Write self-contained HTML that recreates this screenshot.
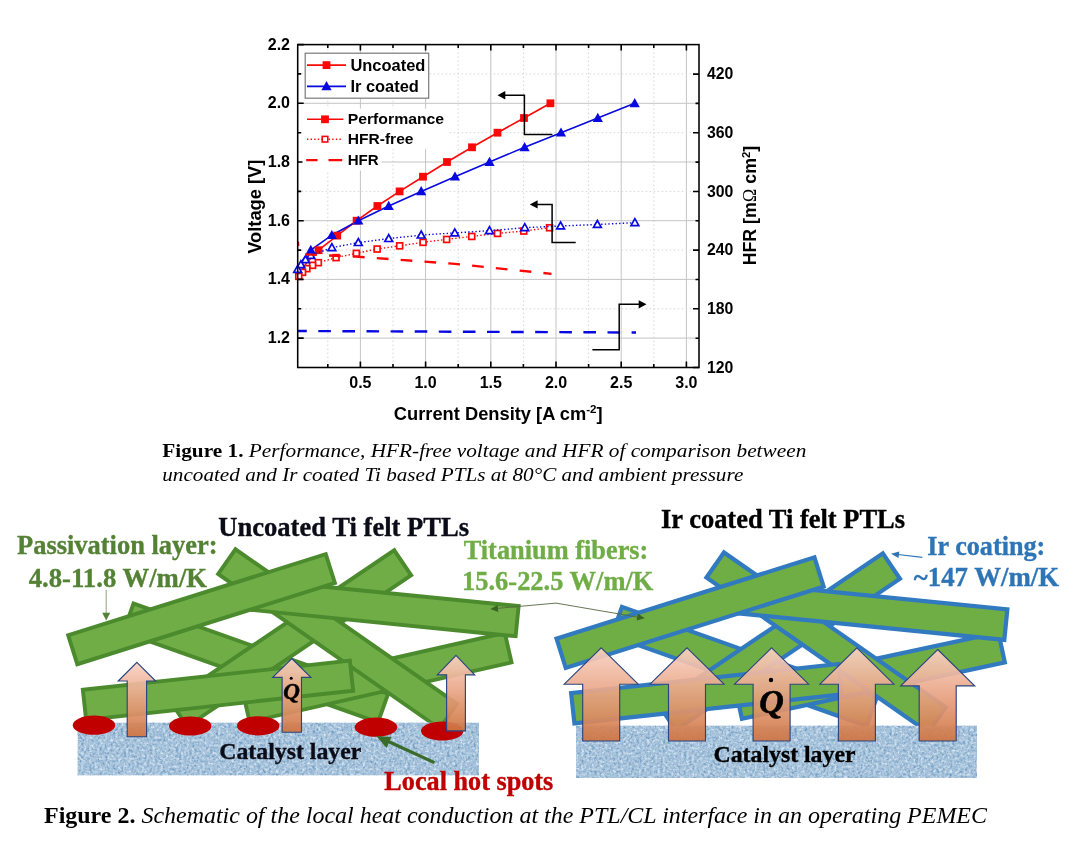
<!DOCTYPE html>
<html><head><meta charset="utf-8"><title>Figure</title>
<style>html,body{margin:0;padding:0;background:#fff}svg{display:block}</style></head>
<body><svg width="1082" height="845" viewBox="0 0 1082 845">
<rect width="1082" height="845" fill="#fff"/>
<g id="chart"><line x1="360.4" y1="44.6" x2="360.4" y2="367.5" stroke="#c4c4c4" stroke-width="1"/>
<line x1="425.6" y1="44.6" x2="425.6" y2="367.5" stroke="#c4c4c4" stroke-width="1"/>
<line x1="490.8" y1="44.6" x2="490.8" y2="367.5" stroke="#c4c4c4" stroke-width="1"/>
<line x1="556.0" y1="44.6" x2="556.0" y2="367.5" stroke="#c4c4c4" stroke-width="1"/>
<line x1="621.2" y1="44.6" x2="621.2" y2="367.5" stroke="#c4c4c4" stroke-width="1"/>
<line x1="686.4" y1="44.6" x2="686.4" y2="367.5" stroke="#c4c4c4" stroke-width="1"/>
<line x1="327.8" y1="44.6" x2="327.8" y2="367.5" stroke="#d6d6d6" stroke-width="1" stroke-dasharray="1.5,2.5"/>
<line x1="393.0" y1="44.6" x2="393.0" y2="367.5" stroke="#d6d6d6" stroke-width="1" stroke-dasharray="1.5,2.5"/>
<line x1="458.2" y1="44.6" x2="458.2" y2="367.5" stroke="#d6d6d6" stroke-width="1" stroke-dasharray="1.5,2.5"/>
<line x1="523.4" y1="44.6" x2="523.4" y2="367.5" stroke="#d6d6d6" stroke-width="1" stroke-dasharray="1.5,2.5"/>
<line x1="588.6" y1="44.6" x2="588.6" y2="367.5" stroke="#d6d6d6" stroke-width="1" stroke-dasharray="1.5,2.5"/>
<line x1="653.8" y1="44.6" x2="653.8" y2="367.5" stroke="#d6d6d6" stroke-width="1" stroke-dasharray="1.5,2.5"/>
<line x1="297.7" y1="103.3" x2="699.0" y2="103.3" stroke="#c4c4c4" stroke-width="1"/>
<line x1="297.7" y1="162.0" x2="699.0" y2="162.0" stroke="#c4c4c4" stroke-width="1"/>
<line x1="297.7" y1="220.7" x2="699.0" y2="220.7" stroke="#c4c4c4" stroke-width="1"/>
<line x1="297.7" y1="279.4" x2="699.0" y2="279.4" stroke="#c4c4c4" stroke-width="1"/>
<line x1="297.7" y1="338.1" x2="699.0" y2="338.1" stroke="#c4c4c4" stroke-width="1"/>
<line x1="297.7" y1="73.9" x2="699.0" y2="73.9" stroke="#d6d6d6" stroke-width="1" stroke-dasharray="1.5,2.5"/>
<line x1="297.7" y1="132.7" x2="699.0" y2="132.7" stroke="#d6d6d6" stroke-width="1" stroke-dasharray="1.5,2.5"/>
<line x1="297.7" y1="191.4" x2="699.0" y2="191.4" stroke="#d6d6d6" stroke-width="1" stroke-dasharray="1.5,2.5"/>
<line x1="297.7" y1="250.1" x2="699.0" y2="250.1" stroke="#d6d6d6" stroke-width="1" stroke-dasharray="1.5,2.5"/>
<line x1="297.7" y1="308.8" x2="699.0" y2="308.8" stroke="#d6d6d6" stroke-width="1" stroke-dasharray="1.5,2.5"/>
<polyline points="549.6,227.7 523.8,231.0 497.5,233.4 471.7,236.4 446.6,239.4 423.0,242.3 399.6,245.8 377.2,249.0 356.4,253.3 336.0,257.6 318.4,262.6 312.5,265.4 306.8,268.6 302.5,272.4 298.7,276.3" fill="none" stroke="#fa0808" stroke-width="1.4" stroke-dasharray="1.4,2.2"/>
<polyline points="550.4,103.3 524.0,118.0 497.5,132.7 472.0,147.3 447.0,162.0 423.0,176.7 399.6,191.4 377.4,206.0 356.6,220.7 337.2,235.6 318.6,250.2 312.6,256.1 306.9,262.4 302.7,268.6 298.7,274.6" fill="none" stroke="#fa0808" stroke-width="1.6"/>
<polyline points="634.7,103.3 597.8,118.0 561.0,132.7 524.6,147.3 489.5,162.0 455.0,176.7 421.2,191.4 388.7,206.0 358.3,220.7 331.8,235.2 310.8,250.0 305.5,256.2 300.9,262.8 297.7,268.5" fill="none" stroke="#0808e0" stroke-width="1.6"/>
<rect x="546.5" y="99.4" width="7.8" height="7.8" fill="#fa0808"/>
<rect x="520.1" y="114.1" width="7.8" height="7.8" fill="#fa0808"/>
<rect x="493.6" y="128.8" width="7.8" height="7.8" fill="#fa0808"/>
<rect x="468.1" y="143.4" width="7.8" height="7.8" fill="#fa0808"/>
<rect x="443.1" y="158.1" width="7.8" height="7.8" fill="#fa0808"/>
<rect x="419.1" y="172.8" width="7.8" height="7.8" fill="#fa0808"/>
<rect x="395.7" y="187.5" width="7.8" height="7.8" fill="#fa0808"/>
<rect x="373.5" y="202.1" width="7.8" height="7.8" fill="#fa0808"/>
<rect x="352.7" y="216.8" width="7.8" height="7.8" fill="#fa0808"/>
<rect x="333.3" y="231.7" width="7.8" height="7.8" fill="#fa0808"/>
<rect x="314.7" y="246.3" width="7.8" height="7.8" fill="#fa0808"/>
<polygon points="634.7,98.0 629.6,107.2 639.8,107.2" fill="#0808e0"/>
<polygon points="597.8,112.7 592.7,121.9 602.9,121.9" fill="#0808e0"/>
<polygon points="561.0,127.4 555.9,136.6 566.1,136.6" fill="#0808e0"/>
<polygon points="524.6,142.0 519.5,151.2 529.7,151.2" fill="#0808e0"/>
<polygon points="489.5,156.7 484.4,165.9 494.6,165.9" fill="#0808e0"/>
<polygon points="455.0,171.4 449.9,180.6 460.1,180.6" fill="#0808e0"/>
<polygon points="421.2,186.1 416.1,195.3 426.3,195.3" fill="#0808e0"/>
<polygon points="388.7,200.7 383.6,209.9 393.8,209.9" fill="#0808e0"/>
<polygon points="358.3,215.4 353.2,224.6 363.4,224.6" fill="#0808e0"/>
<polygon points="331.8,229.9 326.7,239.1 336.9,239.1" fill="#0808e0"/>
<polygon points="310.8,244.7 305.7,253.9 315.9,253.9" fill="#0808e0"/>
<rect x="546.6" y="224.8" width="5.9" height="5.9" fill="#fff" stroke="#fa0808" stroke-width="1.7"/>
<rect x="520.8" y="228.1" width="5.9" height="5.9" fill="#fff" stroke="#fa0808" stroke-width="1.7"/>
<rect x="494.6" y="230.5" width="5.9" height="5.9" fill="#fff" stroke="#fa0808" stroke-width="1.7"/>
<rect x="468.8" y="233.5" width="5.9" height="5.9" fill="#fff" stroke="#fa0808" stroke-width="1.7"/>
<rect x="443.7" y="236.5" width="5.9" height="5.9" fill="#fff" stroke="#fa0808" stroke-width="1.7"/>
<rect x="420.1" y="239.4" width="5.9" height="5.9" fill="#fff" stroke="#fa0808" stroke-width="1.7"/>
<rect x="396.7" y="242.9" width="5.9" height="5.9" fill="#fff" stroke="#fa0808" stroke-width="1.7"/>
<rect x="374.2" y="246.1" width="5.9" height="5.9" fill="#fff" stroke="#fa0808" stroke-width="1.7"/>
<rect x="353.4" y="250.4" width="5.9" height="5.9" fill="#fff" stroke="#fa0808" stroke-width="1.7"/>
<rect x="333.1" y="254.7" width="5.9" height="5.9" fill="#fff" stroke="#fa0808" stroke-width="1.7"/>
<rect x="315.4" y="259.7" width="5.9" height="5.9" fill="#fff" stroke="#fa0808" stroke-width="1.7"/>
<rect x="309.6" y="262.4" width="5.9" height="5.9" fill="#fff" stroke="#fa0808" stroke-width="1.7"/>
<rect x="303.9" y="265.7" width="5.9" height="5.9" fill="#fff" stroke="#fa0808" stroke-width="1.7"/>
<rect x="299.6" y="269.4" width="5.9" height="5.9" fill="#fff" stroke="#fa0808" stroke-width="1.7"/>
<rect x="295.8" y="273.4" width="5.9" height="5.9" fill="#fff" stroke="#fa0808" stroke-width="1.7"/>
<polyline points="634.9,222.7 597.4,224.5 560.6,226.0 524.8,227.7 489.5,230.7 454.8,232.9 421.2,235.1 388.7,238.6 358.3,242.6 331.9,247.7 310.8,255.5 305.5,259.8 300.9,264.8 297.7,269.4" fill="none" stroke="#0808e0" stroke-width="1.4" stroke-dasharray="1.4,2.2"/>
<polygon points="634.9,218.7 631.0,225.6 638.8,225.6" fill="#fff" stroke="#0808e0" stroke-width="1.7" stroke-linejoin="miter"/>
<polygon points="597.4,220.5 593.5,227.4 601.3,227.4" fill="#fff" stroke="#0808e0" stroke-width="1.7" stroke-linejoin="miter"/>
<polygon points="560.6,222.0 556.7,228.9 564.5,228.9" fill="#fff" stroke="#0808e0" stroke-width="1.7" stroke-linejoin="miter"/>
<polygon points="524.8,223.7 520.9,230.6 528.7,230.6" fill="#fff" stroke="#0808e0" stroke-width="1.7" stroke-linejoin="miter"/>
<polygon points="489.5,226.7 485.6,233.6 493.4,233.6" fill="#fff" stroke="#0808e0" stroke-width="1.7" stroke-linejoin="miter"/>
<polygon points="454.8,228.9 450.9,235.8 458.7,235.8" fill="#fff" stroke="#0808e0" stroke-width="1.7" stroke-linejoin="miter"/>
<polygon points="421.2,231.1 417.3,238.0 425.1,238.0" fill="#fff" stroke="#0808e0" stroke-width="1.7" stroke-linejoin="miter"/>
<polygon points="388.7,234.6 384.8,241.5 392.6,241.5" fill="#fff" stroke="#0808e0" stroke-width="1.7" stroke-linejoin="miter"/>
<polygon points="358.3,238.6 354.4,245.5 362.2,245.5" fill="#fff" stroke="#0808e0" stroke-width="1.7" stroke-linejoin="miter"/>
<polygon points="331.9,243.7 328.0,250.6 335.8,250.6" fill="#fff" stroke="#0808e0" stroke-width="1.7" stroke-linejoin="miter"/>
<polygon points="310.8,251.5 306.9,258.4 314.7,258.4" fill="#fff" stroke="#0808e0" stroke-width="1.7" stroke-linejoin="miter"/>
<polygon points="305.5,255.8 301.6,262.7 309.4,262.7" fill="#fff" stroke="#0808e0" stroke-width="1.7" stroke-linejoin="miter"/>
<polygon points="300.9,260.8 297.0,267.7 304.8,267.7" fill="#fff" stroke="#0808e0" stroke-width="1.7" stroke-linejoin="miter"/>
<polygon points="297.7,265.4 293.8,272.3 301.6,272.3" fill="#fff" stroke="#0808e0" stroke-width="1.7" stroke-linejoin="miter"/>
<polyline points="297.7,331.0 636.0,332.5" fill="none" stroke="#0808e0" stroke-width="2.4" stroke-dasharray="12.6,11.5" stroke-dashoffset="3.5"/>
<polyline points="305.2,254.4 356.0,256.6 452.0,263.6 551.5,273.9" fill="none" stroke="#fa0808" stroke-width="2.4" stroke-dasharray="11.7,12.2"/><path d="M298.3,241.5L298.6,246" stroke="#fa0808" stroke-width="1.6"/>
<rect x="297.7" y="44.6" width="401.3" height="322.9" fill="none" stroke="#000" stroke-width="1.55"/>
<path d="M297.7,44.6h6M297.7,103.3h6M297.7,162.0h6M297.7,220.7h6M297.7,279.4h6M297.7,338.1h6M297.7,73.9h3.5M297.7,132.7h3.5M297.7,191.4h3.5M297.7,250.1h3.5M297.7,308.8h3.5M699.0,74.1h-6M699.0,132.8h-6M699.0,191.5h-6M699.0,250.1h-6M699.0,308.8h-6M699.0,367.5h-6M699.0,103.4h-3.5M699.0,162.1h-3.5M699.0,220.8h-3.5M699.0,279.5h-3.5M699.0,338.2h-3.5M360.4,367.5v-6M360.4,44.6v6M425.6,367.5v-6M425.6,44.6v6M490.8,367.5v-6M490.8,44.6v6M556.0,367.5v-6M556.0,44.6v6M621.2,367.5v-6M621.2,44.6v6M686.4,367.5v-6M686.4,44.6v6M327.8,367.5v-3.5M327.8,44.6v3.5M393.0,367.5v-3.5M393.0,44.6v3.5M458.2,367.5v-3.5M458.2,44.6v3.5M523.4,367.5v-3.5M523.4,44.6v3.5M588.6,367.5v-3.5M588.6,44.6v3.5M653.8,367.5v-3.5M653.8,44.6v3.5" stroke="#000" stroke-width="1.6" fill="none"/>
<polyline points="505.0,95.3 524.4,95.3 524.4,134.4 552.4,134.4" fill="none" stroke="#000" stroke-width="1.5"/>
<polygon points="497.5,95.3 505.3,91.1 505.3,99.5" fill="#000"/>
<polyline points="537.0,204.4 552.1,204.4 552.1,242.6 575.7,242.6" fill="none" stroke="#000" stroke-width="1.5"/>
<polygon points="529.8,204.4 537.6,200.2 537.6,208.6" fill="#000"/>
<polyline points="592.4,349.7 619.2,349.7 619.2,304.3 640.0,304.3" fill="none" stroke="#000" stroke-width="1.5"/>
<polygon points="646.5,304.3 638.7,300.2 638.7,308.4" fill="#000"/>
<rect x="305.2" y="53.2" width="123.5" height="45" fill="#fff" stroke="#7a7a7a" stroke-width="1.2"/>
<line x1="307" y1="65.1" x2="346" y2="65.1" stroke="#fa0808" stroke-width="1.6"/><rect x="322.6" y="61.2" width="7.8" height="7.8" fill="#fa0808"/>
<line x1="307" y1="86.4" x2="346" y2="86.4" stroke="#0808e0" stroke-width="1.6"/><polygon points="326.5,81.1 321.4,90.3 331.6,90.3" fill="#0808e0"/>
<rect x="302.5" y="108.6" width="145" height="40.4" fill="#fff"/><rect x="302.5" y="148.8" width="79" height="21.7" fill="#fff"/>
<line x1="307" y1="119.3" x2="343.4" y2="119.3" stroke="#fa0808" stroke-width="1.6"/><rect x="321.1" y="115.4" width="7.8" height="7.8" fill="#fa0808"/>
<line x1="307" y1="139.2" x2="341" y2="139.2" stroke="#fa0808" stroke-width="1.4" stroke-dasharray="1.4,2.2"/><rect x="322.2" y="136.4" width="5.6" height="5.6" fill="#fff" stroke="#fa0808" stroke-width="1.6"/>
<path d="M306.2,160.1h11.4M328.5,160.1h13.7" stroke="#fa0808" stroke-width="2.3"/>
<text x="350.4" y="71.2" font-size="16" text-anchor="start" style="font-family:'Liberation Sans',Arial,sans-serif;font-weight:bold;fill:#000" textLength="75" lengthAdjust="spacingAndGlyphs">Uncoated</text>
<text x="350.4" y="92.2" font-size="16" text-anchor="start" style="font-family:'Liberation Sans',Arial,sans-serif;font-weight:bold;fill:#000" textLength="68.5" lengthAdjust="spacingAndGlyphs">Ir coated</text>
<text x="347.7" y="124.4" font-size="15.5" text-anchor="start" style="font-family:'Liberation Sans',Arial,sans-serif;font-weight:bold;fill:#000" textLength="96.4" lengthAdjust="spacingAndGlyphs">Performance</text>
<text x="347.7" y="144.3" font-size="15.5" text-anchor="start" style="font-family:'Liberation Sans',Arial,sans-serif;font-weight:bold;fill:#000" textLength="65.8" lengthAdjust="spacingAndGlyphs">HFR-free</text>
<text x="347.7" y="165.1" font-size="15.5" text-anchor="start" style="font-family:'Liberation Sans',Arial,sans-serif;font-weight:bold;fill:#000" textLength="31" lengthAdjust="spacingAndGlyphs">HFR</text>
<text x="290.0" y="49.5" font-size="16" text-anchor="end" style="font-family:'Liberation Sans',Arial,sans-serif;font-weight:bold;fill:#000">2.2</text>
<text x="290.0" y="108.2" font-size="16" text-anchor="end" style="font-family:'Liberation Sans',Arial,sans-serif;font-weight:bold;fill:#000">2.0</text>
<text x="290.0" y="166.9" font-size="16" text-anchor="end" style="font-family:'Liberation Sans',Arial,sans-serif;font-weight:bold;fill:#000">1.8</text>
<text x="290.0" y="225.6" font-size="16" text-anchor="end" style="font-family:'Liberation Sans',Arial,sans-serif;font-weight:bold;fill:#000">1.6</text>
<text x="290.0" y="284.3" font-size="16" text-anchor="end" style="font-family:'Liberation Sans',Arial,sans-serif;font-weight:bold;fill:#000">1.4</text>
<text x="290.0" y="343.0" font-size="16" text-anchor="end" style="font-family:'Liberation Sans',Arial,sans-serif;font-weight:bold;fill:#000">1.2</text>
<text x="707" y="79.1" font-size="15.8" text-anchor="start" style="font-family:'Liberation Sans',Arial,sans-serif;font-weight:bold;fill:#000">420</text>
<text x="707" y="137.8" font-size="15.8" text-anchor="start" style="font-family:'Liberation Sans',Arial,sans-serif;font-weight:bold;fill:#000">360</text>
<text x="707" y="196.5" font-size="15.8" text-anchor="start" style="font-family:'Liberation Sans',Arial,sans-serif;font-weight:bold;fill:#000">300</text>
<text x="707" y="255.1" font-size="15.8" text-anchor="start" style="font-family:'Liberation Sans',Arial,sans-serif;font-weight:bold;fill:#000">240</text>
<text x="707" y="313.8" font-size="15.8" text-anchor="start" style="font-family:'Liberation Sans',Arial,sans-serif;font-weight:bold;fill:#000">180</text>
<text x="707" y="372.5" font-size="15.8" text-anchor="start" style="font-family:'Liberation Sans',Arial,sans-serif;font-weight:bold;fill:#000">120</text>
<text x="360.4" y="387.7" font-size="16" text-anchor="middle" style="font-family:'Liberation Sans',Arial,sans-serif;font-weight:bold;fill:#000">0.5</text>
<text x="425.6" y="387.7" font-size="16" text-anchor="middle" style="font-family:'Liberation Sans',Arial,sans-serif;font-weight:bold;fill:#000">1.0</text>
<text x="490.8" y="387.7" font-size="16" text-anchor="middle" style="font-family:'Liberation Sans',Arial,sans-serif;font-weight:bold;fill:#000">1.5</text>
<text x="556.0" y="387.7" font-size="16" text-anchor="middle" style="font-family:'Liberation Sans',Arial,sans-serif;font-weight:bold;fill:#000">2.0</text>
<text x="621.2" y="387.7" font-size="16" text-anchor="middle" style="font-family:'Liberation Sans',Arial,sans-serif;font-weight:bold;fill:#000">2.5</text>
<text x="686.4" y="387.7" font-size="16" text-anchor="middle" style="font-family:'Liberation Sans',Arial,sans-serif;font-weight:bold;fill:#000">3.0</text>
<text x="393.8" y="419.5" font-size="18.2" text-anchor="start" style="font-family:'Liberation Sans',Arial,sans-serif;font-weight:bold;fill:#000" textLength="208.8" lengthAdjust="spacingAndGlyphs">Current Density [A cm<tspan dy="-6.5" font-size="11.5">-2</tspan><tspan dy="6.5">]</tspan></text>
<text transform="translate(261.2,253.8) rotate(-90)" font-size="18" style="font-family:'Liberation Sans',Arial,sans-serif;font-weight:bold;fill:#000" textLength="94.2" lengthAdjust="spacingAndGlyphs">Voltage [V]</text>
<text transform="translate(756.3,265.3) rotate(-90)" font-size="18" style="font-family:'Liberation Sans',Arial,sans-serif;font-weight:bold;fill:#000" textLength="119.5" lengthAdjust="spacingAndGlyphs">HFR [m<tspan style="font-family:'Liberation Serif',serif;font-weight:normal" font-size="18.5">Ω</tspan> cm<tspan dy="-6.5" font-size="11.5">2</tspan><tspan dy="6.5">]</tspan></text></g>
<text x="162.3" y="456.6" font-size="18.8" style="font-family:'Liberation Serif','Times New Roman',serif;fill:#000" textLength="644" lengthAdjust="spacingAndGlyphs"><tspan font-weight="bold">Figure 1.</tspan><tspan font-style="italic"> Performance, HFR-free voltage and HFR of comparison between</tspan></text>
<text x="162.3" y="481.2" font-size="18.8" style="font-family:'Liberation Serif','Times New Roman',serif;fill:#000;font-style:italic" textLength="581" lengthAdjust="spacingAndGlyphs">uncoated and Ir coated Ti based PTLs at 80°C and ambient pressure</text>
<text x="44" y="823.3" font-size="24" style="font-family:'Liberation Serif','Times New Roman',serif;fill:#000" textLength="943" lengthAdjust="spacingAndGlyphs"><tspan font-weight="bold">Figure 2.</tspan><tspan font-style="italic"> Schematic of the local heat conduction at the PTL/CL interface in an operating PEMEC</tspan></text>
<defs>
<filter id="noise" x="0" y="0" width="100%" height="100%" color-interpolation-filters="sRGB">
<feTurbulence type="fractalNoise" baseFrequency="0.38" numOctaves="2" seed="3" result="n"/>
<feColorMatrix in="n" type="matrix" values="0 0 0 0 0  0 0 0 0 0  0 0 0 0 0  2.2 1.4 0 0 -1.55" result="a"/>
<feFlood flood-color="#d3e3f0" result="w"/>
<feComposite in="w" in2="a" operator="in" result="spk"/>
<feColorMatrix in="n" type="matrix" values="0 0 0 0 0  0 0 0 0 0  0 0 0 0 0  0 2.0 1.8 0 -1.62" result="b"/>
<feFlood flood-color="#6a97bf" result="d"/>
<feComposite in="d" in2="b" operator="in" result="drk"/>
<feMerge result="m"><feMergeNode in="SourceGraphic"/><feMergeNode in="drk"/><feMergeNode in="spk"/></feMerge><feGaussianBlur in="m" stdDeviation="0.45" result="bl"/><feComposite in="bl" in2="SourceGraphic" operator="in"/>
</filter>
<linearGradient id="ag" x1="0" y1="0" x2="0" y2="1">
<stop offset="0" stop-color="#f9d2c4"/><stop offset="0.42" stop-color="#ebaa8d"/><stop offset="1" stop-color="#cf7440"/>
</linearGradient>
</defs>
<g id="left">
<rect x="-135.1" y="-15.2" width="270.1" height="30.3" transform="translate(255.8,663.0) rotate(19.50)" fill="#70ad47" stroke="#4b8a2d" stroke-width="3.9" stroke-linejoin="miter"/>
<rect x="-134.3" y="-15.2" width="268.6" height="30.3" transform="translate(377.2,677.4) rotate(-12.80)" fill="#70ad47" stroke="#4b8a2d" stroke-width="3.9" stroke-linejoin="miter"/>
<rect x="-135.1" y="-15.2" width="270.1" height="30.3" transform="translate(290.8,638.3) rotate(-34.00)" fill="#70ad47" stroke="#4b8a2d" stroke-width="3.9" stroke-linejoin="miter"/>
<rect x="-135.1" y="-15.2" width="270.1" height="30.3" transform="translate(337.6,639.0) rotate(34.90)" fill="#70ad47" stroke="#4b8a2d" stroke-width="3.9" stroke-linejoin="miter"/>
<rect x="-135.1" y="-15.2" width="270.1" height="30.3" transform="translate(382.8,607.8) rotate(5.70)" fill="#70ad47" stroke="#4b8a2d" stroke-width="3.9" stroke-linejoin="miter"/>
<rect x="-135.1" y="-15.2" width="270.1" height="30.3" transform="translate(201.6,609.2) rotate(-17.50)" fill="#70ad47" stroke="#4b8a2d" stroke-width="3.9" stroke-linejoin="miter"/>
<rect x="-134.3" y="-15.2" width="268.6" height="30.3" transform="translate(218.0,690.3) rotate(-6.20)" fill="#70ad47" stroke="#4b8a2d" stroke-width="3.9" stroke-linejoin="miter"/>
<rect x="77.5" y="722.5" width="401.5" height="53" fill="#a6c2db" filter="url(#noise)"/>
<ellipse cx="94" cy="725.2" rx="21.2" ry="9.6" fill="#c00000"/>
<ellipse cx="190.2" cy="726" rx="21.2" ry="9.6" fill="#c00000"/>
<ellipse cx="258.2" cy="725.8" rx="21.2" ry="9.6" fill="#c00000"/>
<ellipse cx="376" cy="727.2" rx="21.2" ry="9.6" fill="#c00000"/>
<ellipse cx="442.2" cy="731" rx="21.2" ry="9.6" fill="#c00000"/>
<path d="M136.9,662.3 L155.6,681.0 L146.6,681.0 L146.6,736.7 L127.2,736.7 L127.2,681.0 L118.2,681.0 Z" fill="url(#ag)" fill-opacity="0.93" stroke="#2a4580" stroke-width="1.15" stroke-linejoin="miter"/>
<path d="M291.8,658.5 L310.9,677.3 L301.5,677.3 L301.5,732.2 L282.1,732.2 L282.1,677.3 L272.7,677.3 Z" fill="url(#ag)" fill-opacity="0.93" stroke="#2a4580" stroke-width="1.15" stroke-linejoin="miter"/>
<path d="M456.0,655.3 L474.7,674.8 L465.4,674.8 L465.4,730.9 L446.6,730.9 L446.6,674.8 L437.3,674.8 Z" fill="url(#ag)" fill-opacity="0.93" stroke="#2a4580" stroke-width="1.15" stroke-linejoin="miter"/>
</g>
<g id="right">
<rect x="-135.2" y="-15.3" width="270.4" height="30.6" transform="translate(744.3,666.4) rotate(19.50)" fill="#6fad45" stroke="#317ac0" stroke-width="4.2" stroke-linejoin="miter"/>
<rect x="-134.5" y="-15.3" width="268.9" height="30.6" transform="translate(870.2,675.7) rotate(-12.10)" fill="#6fad45" stroke="#317ac0" stroke-width="4.2" stroke-linejoin="miter"/>
<rect x="-135.2" y="-15.3" width="270.4" height="30.6" transform="translate(779.3,641.7) rotate(-34.00)" fill="#6fad45" stroke="#317ac0" stroke-width="4.2" stroke-linejoin="miter"/>
<rect x="-135.2" y="-15.3" width="270.4" height="30.6" transform="translate(826.1,642.4) rotate(34.90)" fill="#6fad45" stroke="#317ac0" stroke-width="4.2" stroke-linejoin="miter"/>
<rect x="-135.2" y="-15.3" width="270.4" height="30.6" transform="translate(871.3,611.2) rotate(5.70)" fill="#6fad45" stroke="#317ac0" stroke-width="4.2" stroke-linejoin="miter"/>
<rect x="-135.2" y="-15.3" width="270.4" height="30.6" transform="translate(690.1,612.6) rotate(-17.50)" fill="#6fad45" stroke="#317ac0" stroke-width="4.2" stroke-linejoin="miter"/>
<rect x="-134.5" y="-15.3" width="268.9" height="30.6" transform="translate(706.5,693.7) rotate(-6.20)" fill="#6fad45" stroke="#317ac0" stroke-width="4.2" stroke-linejoin="miter"/>
<rect x="576" y="725.5" width="401" height="52.5" fill="#a6c2db" filter="url(#noise)"/>
<path d="M601.2,647.8 L638.2,684.2 L619.7,684.2 L619.7,741.0 L582.7,741.0 L582.7,684.2 L564.2,684.2 Z" fill="url(#ag)" fill-opacity="0.92" stroke="#2a4580" stroke-width="1.15" stroke-linejoin="miter"/>
<path d="M687.0,647.8 L724.0,684.2 L705.5,684.2 L705.5,741.0 L668.5,741.0 L668.5,684.2 L650.0,684.2 Z" fill="url(#ag)" fill-opacity="0.92" stroke="#2a4580" stroke-width="1.15" stroke-linejoin="miter"/>
<path d="M771.6,647.8 L808.6,684.2 L790.1,684.2 L790.1,741.0 L753.1,741.0 L753.1,684.2 L734.6,684.2 Z" fill="url(#ag)" fill-opacity="0.92" stroke="#2a4580" stroke-width="1.15" stroke-linejoin="miter"/>
<path d="M856.9,647.8 L893.9,684.2 L875.4,684.2 L875.4,741.0 L838.4,741.0 L838.4,684.2 L819.9,684.2 Z" fill="url(#ag)" fill-opacity="0.92" stroke="#2a4580" stroke-width="1.15" stroke-linejoin="miter"/>
<path d="M937.7,649.5 L974.7,685.9 L956.2,685.9 L956.2,741.0 L919.2,741.0 L919.2,685.9 L900.7,685.9 Z" fill="url(#ag)" fill-opacity="0.92" stroke="#2a4580" stroke-width="1.15" stroke-linejoin="miter"/>
</g>
<text x="218.2" y="535.9" font-size="26.6" text-anchor="start" style="font-family:'Liberation Serif','Times New Roman',serif;font-weight:bold;fill:#0c0c18;stroke:#0c0c18;stroke-width:0.35px" textLength="251" lengthAdjust="spacingAndGlyphs">Uncoated Ti felt PTLs</text>
<text x="17" y="554.2" font-size="26.6" text-anchor="start" style="font-family:'Liberation Serif','Times New Roman',serif;font-weight:bold;fill:#548235;stroke:#548235;stroke-width:0.35px" textLength="200.6" lengthAdjust="spacingAndGlyphs">Passivation layer:</text>
<text x="28.7" y="586.5" font-size="26.6" text-anchor="start" style="font-family:'Liberation Serif','Times New Roman',serif;font-weight:bold;fill:#548235;stroke:#548235;stroke-width:0.35px" textLength="178.4" lengthAdjust="spacingAndGlyphs">4.8-11.8 W/m/K</text>
<text x="463.7" y="558.8" font-size="26.6" text-anchor="start" style="font-family:'Liberation Serif','Times New Roman',serif;font-weight:bold;fill:#70ad47;stroke:#70ad47;stroke-width:0.35px" textLength="184.7" lengthAdjust="spacingAndGlyphs">Titanium fibers:</text>
<text x="462" y="589.8" font-size="26.6" text-anchor="start" style="font-family:'Liberation Serif','Times New Roman',serif;font-weight:bold;fill:#70ad47;stroke:#70ad47;stroke-width:0.35px" textLength="191.4" lengthAdjust="spacingAndGlyphs">15.6-22.5 W/m/K</text>
<text x="661" y="528.1" font-size="26.6" text-anchor="start" style="font-family:'Liberation Serif','Times New Roman',serif;font-weight:bold;fill:#000;stroke:#000;stroke-width:0.35px" textLength="244" lengthAdjust="spacingAndGlyphs">Ir coated Ti felt PTLs</text>
<text x="927.3" y="554.5" font-size="26.6" text-anchor="start" style="font-family:'Liberation Serif','Times New Roman',serif;font-weight:bold;fill:#2e75b6;stroke:#2e75b6;stroke-width:0.35px" textLength="118" lengthAdjust="spacingAndGlyphs">Ir coating:</text>
<text x="913.8" y="586.2" font-size="26.6" text-anchor="start" style="font-family:'Liberation Serif','Times New Roman',serif;font-weight:bold;fill:#2e75b6;stroke:#2e75b6;stroke-width:0.35px" textLength="145.2" lengthAdjust="spacingAndGlyphs">~147 W/m/K</text>
<text x="219.3" y="759" font-size="24" text-anchor="start" style="font-family:'Liberation Serif','Times New Roman',serif;font-weight:bold;fill:#0c0c18;stroke:#0c0c18;stroke-width:0.35px" textLength="142" lengthAdjust="spacingAndGlyphs">Catalyst layer</text>
<text x="713.5" y="762" font-size="24" text-anchor="start" style="font-family:'Liberation Serif','Times New Roman',serif;font-weight:bold;fill:#000;stroke:#000;stroke-width:0.35px" textLength="142" lengthAdjust="spacingAndGlyphs">Catalyst layer</text>
<text x="384.3" y="790" font-size="26.4" text-anchor="start" style="font-family:'Liberation Serif','Times New Roman',serif;font-weight:bold;fill:#c00000;stroke:#c00000;stroke-width:0.35px" textLength="169" lengthAdjust="spacingAndGlyphs">Local hot spots</text>
<text x="283.2" y="698.6" font-size="23" style="font-family:'Liberation Serif','Times New Roman',serif;font-weight:bold;font-style:italic;fill:#000;stroke:#000;stroke-width:0.5px">Q</text><circle cx="291.2" cy="678.3" r="1.5" fill="#000"/>
<text x="759.3" y="712.6" font-size="34" style="font-family:'Liberation Serif','Times New Roman',serif;font-weight:bold;font-style:italic;fill:#000;stroke:#000;stroke-width:0.6px">Q</text><circle cx="771" cy="680" r="2.2" fill="#000"/>
<path d="M106.2,589.9V614" stroke="#a9b99c" stroke-width="1.3" fill="none"/><polygon points="106.2,620.4 102.2,612.8 110.2,612.8" fill="#548235"/>
<path d="M496,608.5 L556,603.1 L638,617.2" stroke="#56683f" stroke-width="0.9" fill="none"/><polygon points="490.3,609 497.6,605 498.3,612" fill="#3a6425"/><polygon points="644.7,618.3 636.6,620.5 637.9,613.4" fill="#3a6425"/>
<path d="M922.3,557.4 L898,554.5" stroke="#2e75b6" stroke-width="1.1" fill="none"/><polygon points="891,553.7 899.3,551.4 898.5,558" fill="#2e75b6"/>
<path d="M434.5,762.6 L384,739.5" stroke="#3b6b2b" stroke-width="3.2" fill="none"/><polygon points="376.3,736 391.5,737 386.5,748" fill="#3b6b2b"/>
</svg></body></html>
